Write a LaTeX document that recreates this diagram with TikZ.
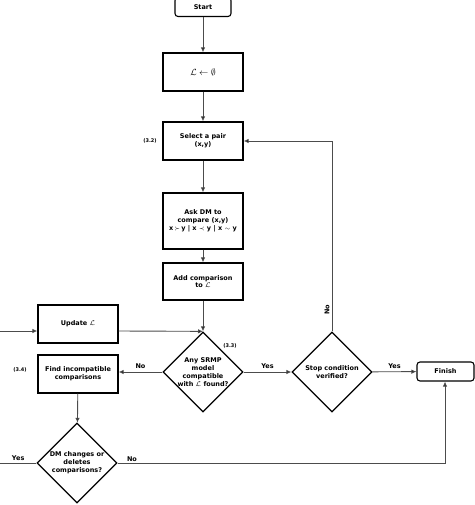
\documentclass[tikz,border=0pt]{standalone}
\usepackage{fontspec}
\setmainfont{DejaVu Sans}
\usetikzlibrary{shapes.geometric,arrows.meta}
\newcommand\flowfnt{\fontsize{6.5}{7.8}\selectfont\bfseries}
\newcommand\tagfnt{\fontsize{5}{6}\selectfont\bfseries}
\newcommand\bigL{{\fontsize{7.5}{7.8}\selectfont$\mathcal{L}$}}
\begin{document}
\begin{tikzpicture}[x=1pt,y=-1pt,
  box/.style={draw, line width=1.3pt, minimum width=80pt, minimum height=38pt, align=center, font=\flowfnt, inner sep=1pt},
  term/.style={draw, line width=1.1pt, rounded corners=3pt, minimum width=56pt, minimum height=19pt, align=center, font=\flowfnt},
  dia/.style={draw, diamond, line width=1.3pt, minimum width=80pt, minimum height=80pt, inner sep=0pt, align=center, font=\flowfnt},
  conn/.style={draw=black!70, line width=0.9pt, -{Latex[length=5pt,width=4.5pt,fill=black]}},
  plain/.style={draw=black!70, line width=0.9pt},
  lbl/.style={font=\flowfnt, inner sep=0pt},
  tag/.style={font=\tagfnt, inner sep=0pt}]
\useasboundingbox (0,0) rectangle (474,505);

\node[term] (start) at (203,7) {Start};
\node[box] (init) at (203,72) {{\fontsize{9.5}{9.5}\selectfont$\mathcal{L}\leftarrow\emptyset$}};
\node[box] (select) at (203,141) {Select a pair\\(x,y)};
\node[box, minimum height=56pt] (ask) at (203,221) {Ask DM to\\compare (x,y)\\x\,$\succ$\,y | x $\prec$ y | x $\sim$ y};
\node[box, minimum height=37pt] (add) at (203,281.5) {Add comparison\\to \bigL};
\node[box] (update) at (78,324) {Update \bigL};
\node[dia] (q1) at (203,372) {Any SRMP\\model\\compatible\\with \bigL\ found?};
\node[dia] (stop) at (332,372) {Stop condition\\verified?};
\node[term, minimum width=57pt] (finish) at (445.5,371.5) {Finish};
\node[box] (find) at (78,374) {Find incompatible\\comparisons};
\node[dia] (dm) at (77,463) {DM changes or\\deletes\\comparisons?};

\node[tag] (t32) at (150,141) {(3.2)};
\node[tag] (t33) at (230,346) {(3.3)};
\node[tag] (t34) at (20,370) {(3.4)};

\coordinate (lin) at (0,331);
\coordinate (lout) at (0,463);
\coordinate (fb) at (445,463);

\draw[conn] (start) -- (init);
\draw[conn] (init) -- (select);
\draw[conn] (select) -- (ask);
\draw[conn] (ask) -- (add);
\draw[conn] (add) -- (q1);
\draw[conn] (lin) -- (lin -| update.west);
\draw[conn] (update.east |- lin) -- (q1.north);
\draw[conn] (q1.west) -- (find.east |- q1.west) node[lbl, midway, above=3pt] (lno1) {No};
\draw[conn] (q1) -- (stop) node[lbl, midway, above=3pt] (lyes1) {Yes};
\draw[conn] (stop.north) |- (select.east);
\node[lbl, rotate=90] (lno2) at (327,310) {No};
\draw[conn] (stop) -- (finish) node[lbl, midway, above=3pt] (lyes2) {Yes};
\draw[conn] (find) -- (dm);
\draw[plain] (dm.west) -- (lout) node[lbl, pos=0.5, above=2pt] (lyes3) {Yes};
\draw[conn] (dm.east) -- (fb) -- (fb |- finish.south);
\node[lbl] (lno3) at (132,459) {No};
\end{tikzpicture}
\end{document}
